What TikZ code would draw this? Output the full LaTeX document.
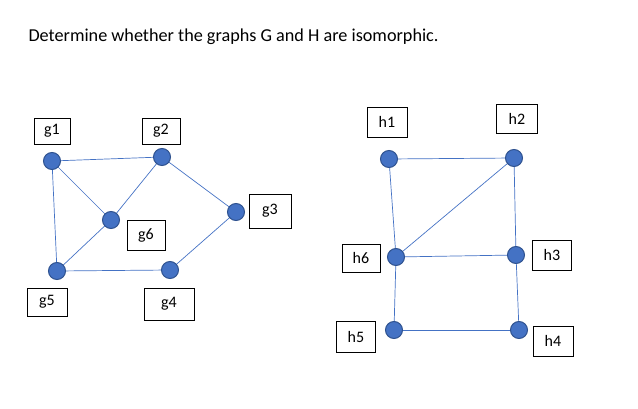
\documentclass[tikz,border=0pt]{standalone}
\usepackage{fontspec}
\setmainfont{Carlito}
\usetikzlibrary{backgrounds}
\definecolor{vfill}{HTML}{4472C4}
\definecolor{vdraw}{HTML}{2F528F}
\begin{document}
\begin{tikzpicture}[x=1pt,y=-1pt,
  vert/.style={circle,fill=vfill,draw=vdraw,line width=1pt,minimum size=17pt,inner sep=0pt},
  lab/.style={draw=black,line width=0.6pt,fill=white,font=\fontsize{16}{18}\selectfont},
  edge/.style={draw=vfill,line width=0.7pt}]
\useasboundingbox (0,0) rectangle (638,409);
\node[anchor=west,font=\fontsize{18.2}{20}\selectfont] (title) at (25,37) {Determine whether the graphs G and H are isomorphic.};
\node[vert] (g1) at (52,161) {};
\node[vert] (g2) at (162,157) {};
\node[vert] (g6) at (111,220) {};
\node[vert] (g3) at (236,212) {};
\node[vert] (g5) at (57,271) {};
\node[vert] (g4) at (170,270) {};
\node[vert] (h1) at (389,159) {};
\node[vert] (h2) at (514,158) {};
\node[vert] (h3) at (516,255) {};
\node[vert] (h6) at (396,257) {};
\node[vert] (h5) at (394,330) {};
\node[vert] (h4) at (519,330) {};
\begin{scope}[on background layer]
\foreach \a/\b in {g1/g2,g1/g6,g1/g5,g2/g6,g2/g3,g6/g5,g5/g4,g4/g3,h1/h2,h1/h6,h2/h6,h2/h3,h6/h3,h6/h5,h5/h4,h3/h4}
  \path[edge] (\a.center) -- (\b.center);
\end{scope}
\node[lab,minimum width=36pt,minimum height=26pt] (lg1) at (52,131) {g1};
\node[lab,minimum width=38pt,minimum height=26pt] (lg2) at (161,131) {g2};
\node[lab,minimum width=42pt,minimum height=34pt] (lg3) at (270,211) {g3};
\node[lab,minimum width=38pt,minimum height=30pt] (lg6) at (146,235) {g6};
\node[lab,minimum width=40pt,minimum height=28pt] (lg5) at (47,302) {g5};
\node[lab,minimum width=50pt,minimum height=32pt] (lg4) at (169,304) {g4};
\node[lab,minimum width=40pt,minimum height=30pt] (lh1) at (387,122) {h1};
\node[lab,minimum width=41pt,minimum height=29pt] (lh2) at (517,119) {h2};
\node[lab,minimum width=39pt,minimum height=30pt] (lh3) at (552,255) {h3};
\node[lab,minimum width=38pt,minimum height=28pt] (lh6) at (361,258) {h6};
\node[lab,minimum width=39pt,minimum height=31pt] (lh5) at (356,337) {h5};
\node[lab,minimum width=40pt,minimum height=30pt] (lh4) at (553,341) {h4};
\end{tikzpicture}
\end{document}
